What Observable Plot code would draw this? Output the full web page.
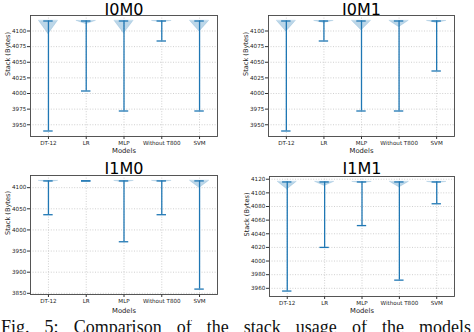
<!DOCTYPE html>
<html><head><meta charset="utf-8">
<script src="https://cdn.jsdelivr.net/npm/d3@7"></script>
<script src="https://cdn.jsdelivr.net/npm/@observablehq/plot@0.6"></script>
<style>
html,body{margin:0;padding:0;background:#fff;width:474px;height:332px;overflow:hidden;}
#wrap{position:relative;width:474px;height:332px;overflow:hidden;}
.cell{position:absolute;}
#caption{position:absolute;left:1px;top:317px;width:470px;font-family:"Liberation Serif",serif;font-size:18px;white-space:nowrap;text-align:justify;text-align-last:justify;color:#111;}
</style></head><body><div id="wrap"><div id="caption">Fig. 5: Comparison of the stack usage of the models</div></div>
<script>
// Categories
const models = ["DT-12", "LR", "MLP", "Without T800", "SVM"];
const panelNames = ["I0M0", "I0M1", "I1M0", "I1M1"];

// Stack usage (bytes): maxima and minima per model
const maxI0M0 = [4116, 4116, 4116, 4116, 4116];
const minI0M0 = [3940, 4004, 3972, 4084, 3972];
const maxI0M1 = [4116, 4116, 4116, 4116, 4116];
const minI0M1 = [3940, 4084, 3972, 3972, 4036];
const maxI1M0 = [4116, 4116, 4116, 4116, 4116];
const minI1M0 = [4036, 4116, 3972, 4036, 3860];
const maxI1M1 = [4116, 4116, 4116, 4116, 4116];
const minI1M1 = [3956, 4020, 4052, 3972, 4084];

// Vertical extent (bytes) of the violin body below the maximum
const spreadI0M0 = [21, 5, 20, 2, 17];
const spreadI0M1 = [17, 3, 15, 10, 3];
const spreadI1M0 = [3, 0, 4, 3, 17];
const spreadI1M1 = [11, 6, 2, 8, 2];

// Y tick values
const ticksI0M0 = [3950, 3975, 4000, 4025, 4050, 4075, 4100];
const ticksI0M1 = [3950, 3975, 4000, 4025, 4050, 4075, 4100];
const ticksI1M0 = [3850, 3900, 3950, 4000, 4050, 4100];
const ticksI1M1 = [3960, 3980, 4000, 4020, 4040, 4060, 4080, 4100, 4120];

const panels = [
  {name: panelNames[0], mins: minI0M0, maxs: maxI0M0, spread: spreadI0M0, ticks: ticksI0M0},
  {name: panelNames[1], mins: minI0M1, maxs: maxI0M1, spread: spreadI0M1, ticks: ticksI0M1},
  {name: panelNames[2], mins: minI1M0, maxs: maxI1M0, spread: spreadI1M0, ticks: ticksI1M0},
  {name: panelNames[3], mins: minI1M1, maxs: maxI1M1, spread: spreadI1M1, ticks: ticksI1M1}
];

const layout = [
  {left: 0,   top: 0,   width: 237, height: 160, mt: 15, mb: 24, ml: 30, mr: 20, xl: 14, tdy: -0.5},
  {left: 237, top: 0,   width: 237, height: 160, mt: 15, mb: 24, ml: 31, mr: 20, xl: 14, tdy: -0.5},
  {left: 0,   top: 155, width: 237, height: 165, mt: 20, mb: 26, ml: 30, mr: 20, xl: 16, tdy: -1.5},
  {left: 237, top: 155, width: 237, height: 165, mt: 21, mb: 24, ml: 32, mr: 20, xl: 14, tdy: -2.5}
];

const C0 = "#1f77b4";
const font = "DejaVu Sans, sans-serif";
const wrap = document.getElementById("wrap");

panels.forEach((p, k) => {
  const L = layout[k];
  const idx = models.map((_, i) => i);
  const lo = d3.min(p.mins), hi = d3.max(p.maxs);
  const pad = 0.05 * (hi - lo);
  const violin = [];
  idx.forEach(i => {
    if (p.spread[i] > 0) {
      violin.push({m: models[i], y: p.maxs[i], x1: i + 1 - 0.25, x2: i + 1 + 0.25});
      violin.push({m: models[i], y: p.maxs[i] - p.spread[i], x1: i + 1, x2: i + 1});
    }
  });
  const chart = Plot.plot({
    width: L.width,
    height: L.height,
    marginTop: L.mt,
    marginBottom: L.mb,
    marginLeft: L.ml,
    marginRight: L.mr,
    style: {fontFamily: font, background: "white", overflow: "visible"},
    x: {type: "linear", domain: [0.525, 5.475]},
    y: {domain: [lo - pad, hi + pad]},
    marks: [
      Plot.gridY(p.ticks, {stroke: "#b0b0b0", strokeOpacity: 0.75, strokeDasharray: "1,1.6", strokeWidth: 0.8}),
      Plot.gridX([1, 2, 3, 4, 5], {stroke: "#b0b0b0", strokeOpacity: 0.75, strokeDasharray: "1,1.6", strokeWidth: 0.8}),
      Plot.areaX(violin, {y: "y", x1: "x1", x2: "x2", z: "m", fill: C0, fillOpacity: 0.3, stroke: C0, strokeOpacity: 0.25, strokeWidth: 0.6}),
      Plot.ruleX(idx, {x: i => i + 1, y1: i => p.mins[i], y2: i => p.maxs[i], stroke: C0, strokeWidth: 1.3}),
      Plot.ruleY(idx, {y: i => p.mins[i], x1: i => i + 1 - 0.125, x2: i => i + 1 + 0.125, stroke: C0, strokeWidth: 1.3}),
      Plot.ruleY(idx, {y: i => p.maxs[i], x1: i => i + 1 - 0.125, x2: i => i + 1 + 0.125, stroke: C0, strokeWidth: 1.3}),
      Plot.axisY(p.ticks, {tickSize: 3, tickPadding: 1.2, fontSize: 5.6, label: null, tickFormat: d => String(d), stroke: "#333", fill: "#222"}),
      Plot.axisX([1, 2, 3, 4, 5], {tickSize: 3, tickPadding: 1.5, fontSize: 5.6, label: null, tickFormat: d => models[d - 1], stroke: "#333", fill: "#222"}),
      Plot.frame({stroke: "#444", strokeWidth: 0.9}),
      Plot.text([p.name], {frameAnchor: "top", lineAnchor: "bottom", dy: L.tdy, fontSize: 16, fill: "#000"}),
      Plot.text(["Stack (Bytes)"], {frameAnchor: "left", rotate: -90, dx: -23, fontSize: 6.6, fill: "#222"}),
      Plot.text(["Models"], {frameAnchor: "bottom", lineAnchor: "middle", dy: L.xl, fontSize: 6.8, fill: "#222"})
    ]
  });
  const div = document.createElement("div");
  div.className = "cell";
  div.style.left = L.left + "px";
  div.style.top = L.top + "px";
  div.appendChild(chart);
  wrap.appendChild(div);
});
</script>
</body></html>
